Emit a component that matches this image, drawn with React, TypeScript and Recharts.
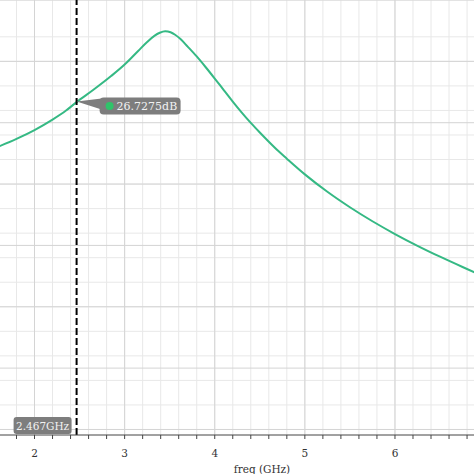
import { LineChart, Line, XAxis, YAxis, CartesianGrid, ReferenceLine, ReferenceDot, Label } from 'recharts';

// gain curve
const freqGHz = [1.6, 1.8, 2.0, 2.2, 2.35, 2.467, 2.65, 2.85, 3.0, 3.15, 3.25, 3.33, 3.39, 3.45, 3.51, 3.56, 3.62, 3.7, 3.8, 3.9, 4.0, 4.1, 4.2, 4.3, 4.4, 4.5, 4.6, 4.7, 4.8, 5.0, 5.25, 5.5, 5.75, 6.0, 6.25, 6.5, 6.75, 6.9];
const gainDb = [23.05, 23.68, 24.4, 25.25, 25.99, 26.68, 27.66, 28.8, 29.74, 30.85, 31.58, 32.08, 32.33, 32.45, 32.37, 32.17, 31.82, 31.2, 30.4, 29.52, 28.6, 27.66, 26.72, 25.82, 24.98, 24.2, 23.45, 22.73, 22.07, 20.79, 19.37, 18.11, 16.97, 15.93, 14.97, 14.08, 13.24, 12.75];

const freqTicks = [1.8, 2, 2.2, 2.4, 2.6, 2.8, 3, 3.2, 3.4, 3.6, 3.8, 4, 4.2, 4.4, 4.6, 4.8, 5, 5.2, 5.4, 5.6, 5.8, 6, 6.2, 6.4, 6.6, 6.8];
const freqLabels = [2, 3, 4, 5, 6];
const gainMajor = [0, 5, 10, 15, 20, 25, 30, 35];
const gainMinor = Array.from({ length: 36 }, (_, i) => i);

const markerFreq = 2.467;
const markerGain = 26.7275;

const data = freqGHz.map((f, i) => ({ freq: f, gain: gainDb[i] }));

const FONT = '"DejaVu Serif", serif';

function FreqTag(props: any) {
  const vb = props.viewBox || {};
  const x = vb.x;
  const bottom = vb.y + vb.height;
  return (
    <g>
      <rect x={x - 63} y={bottom - 18} width={58} height={17} rx={3} fill="#7d7d7d" />
      <text x={x - 34} y={bottom - 5.5} textAnchor="middle" fontFamily={FONT} fontSize={10.5} fill="#f2f2f2">
        {markerFreq}GHz
      </text>
    </g>
  );
}

function GainCallout(props: any) {
  const { cx, cy } = props;
  const bx = cx + 23;
  const by = cy - 4;
  return (
    <g>
      <polygon points={`${cx},${cy} ${bx + 2},${by + 1} ${bx + 2},${by + 12}`} fill="#7d7d7d" />
      <rect x={bx} y={by} width={81} height={17} rx={4} fill="#7d7d7d" />
      <circle cx={bx + 10} cy={by + 8.5} r={4} fill="#2fc46a" />
      <text x={bx + 17} y={by + 12.5} fontFamily={FONT} fontSize={11} fill="#f2f2f2">
        {markerGain}dB
      </text>
    </g>
  );
}

export default function App() {
  return (
    <div style={{ position: 'absolute', left: 0, top: 0, width: 474, height: 474, background: '#fff' }}>
      <LineChart width={474} height={474} data={data} margin={{ top: 0, right: 0, bottom: 0, left: 0 }}>
        <CartesianGrid stroke="#e8e8e8" verticalValues={freqTicks} horizontalValues={gainMinor} />
        <CartesianGrid stroke="#d4d4d4" verticalValues={freqLabels} horizontalValues={gainMajor} />
        <XAxis
          dataKey="freq"
          type="number"
          domain={[1.617, 6.877]}
          allowDataOverflow
          ticks={freqTicks}
          interval={0}
          height={39}
          tickSize={4}
          tickMargin={11}
          tickFormatter={(v: number) => (freqLabels.some((l) => Math.abs(l - v) < 1e-6) ? String(Math.round(v)) : '')}
          tick={{ fontSize: 10.5, fontFamily: FONT, fill: '#333' }}
          axisLine={{ stroke: '#444' }}
          tickLine={{ stroke: '#444' }}
        >
          <Label value="freq (GHz)" position="insideBottom" dx={25} offset={1} style={{ fontSize: 10.5, fontFamily: FONT, fill: '#333' }} />
        </XAxis>
        <YAxis type="number" domain={[-0.45, 35]} allowDataOverflow hide />
        <Line
          type="monotone"
          dataKey="gain"
          stroke="#35b984"
          strokeWidth={2}
          dot={false}
          activeDot={false}
          isAnimationActive={false}
        />
        <ReferenceLine x={markerFreq} stroke="#000" strokeWidth={2} strokeDasharray="7 3" label={(p: any) => <FreqTag {...p} />} />
        <ReferenceDot x={markerFreq} y={markerGain} r={0} shape={(p: any) => <GainCallout {...p} />} />
      </LineChart>
    </div>
  );
}
